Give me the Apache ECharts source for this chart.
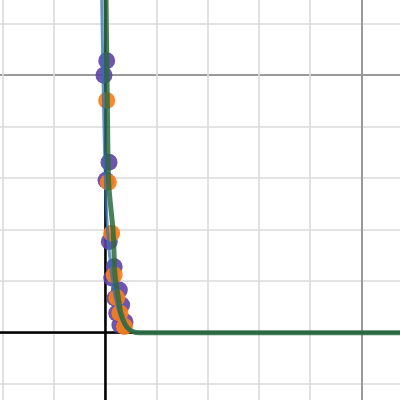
<!DOCTYPE html>
<html>
<head>
<meta charset="utf-8">
<script src="https://cdn.jsdelivr.net/npm/echarts@6/dist/echarts.min.js"></script>
<style>html,body{margin:0;padding:0;background:#fff}#c{width:400px;height:400px}</style>
</head>
<body>
<div id="c"></div>
<script>
// Data (grid units: 1 = one minor gridline)
var purplePoints = [[0.033,5.28],[-0.02,5.0],[0.078,3.31],[0.02,2.96],[0.084,1.77],[0.18,1.28],[0.13,1.06],[0.28,0.83],[0.195,0.67],[0.325,0.54],[0.23,0.38],[0.39,0.21],[0.29,0.15]];
var orangePoints = [[0.033,4.51],[0.064,2.92],[0.13,1.93],[0.18,1.12],[0.23,0.68],[0.29,0.38],[0.38,0.12]];
var blueCurve = [[-0.07,6.9],[-0.064,6.46],[-0.02,3.99],[0.033,2.29],[0.088,1.51],[0.156,0.93],[0.234,0.54],[0.33,0.25],[0.45,0.07],[0.585,0.01],[0.78,0],[8,0]];
var greenCurve = [[0.018,6.9],[0.02,6.46],[0.045,4.52],[0.072,2.91],[0.16,1.94],[0.195,1.12],[0.26,0.68],[0.31,0.38],[0.42,0.12],[0.55,0.02],[0.68,0],[8,0]];

var chart = echarts.init(document.getElementById('c'), null, {renderer:'canvas'});
var hidden = {show:false};
chart.setOption({
  animation:false,
  backgroundColor:'#ffffff',
  grid:{left:-151.25, width:666.25, top:-27.8, height:618, outerBoundsMode:'none', containLabel:false},
  xAxis:[
    {type:'value', min:-5, max:8, interval:1, axisLabel:hidden, axisTick:hidden,
     axisLine:{show:true, onZero:true, lineStyle:{color:'#000', width:2.5}},
     splitLine:{show:true, lineStyle:{color:'#dadada', width:1.6}}},
    {type:'value', min:-5, max:8, interval:5, axisLabel:hidden, axisTick:hidden, axisLine:hidden,
     splitLine:{show:true, lineStyle:{color:'#999999', width:2}}}
  ],
  yAxis:[
    {type:'value', min:-5, max:7, interval:1, axisLabel:hidden, axisTick:hidden,
     axisLine:{show:true, onZero:true, lineStyle:{color:'#000', width:2.5}},
     splitLine:{show:true, lineStyle:{color:'#dadada', width:1.6}}},
    {type:'value', min:-5, max:7, interval:5, axisLabel:hidden, axisTick:hidden, axisLine:hidden,
     splitLine:{show:true, lineStyle:{color:'#999999', width:2}}}
  ],
  series:[
    {type:'scatter', data:purplePoints, symbolSize:17, itemStyle:{color:'#6042a6', opacity:0.9}, silent:true},
    {type:'scatter', data:orangePoints, symbolSize:17, itemStyle:{color:'#fa7e19', opacity:0.92}, silent:true},
    {type:'line', data:blueCurve, showSymbol:false, smooth:0.3, lineStyle:{color:'#2d70b3', width:3, opacity:0.75}, silent:true},
    {type:'line', data:greenCurve, showSymbol:false, smooth:0.3, lineStyle:{color:'#2c6b3c', width:5, opacity:0.85}, silent:true}
  ]
});
</script>
</body>
</html>
